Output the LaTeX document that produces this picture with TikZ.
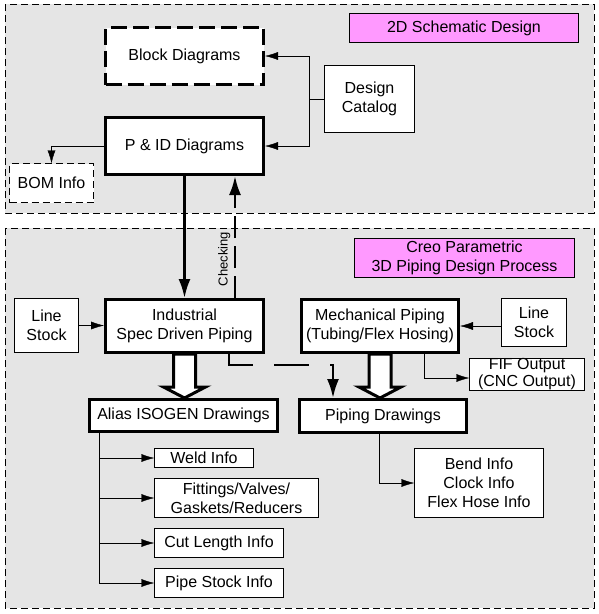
\documentclass[tikz,border=0pt]{standalone}
\usepackage{fontspec}
\setmainfont{Liberation Sans}
\usetikzlibrary{arrows.meta, calc}
\definecolor{panelgray}{RGB}{229,229,229}
\definecolor{titlepink}{RGB}{255,153,255}

\begin{document}
\begin{tikzpicture}[x=1pt, y=-1pt,
        % Define styles for the components
        every node/.style={font=\fontsize{16}{19}\selectfont},
        panel/.style={draw, dash pattern=on 7pt off 4pt, fill=panelgray},
        title/.style={rectangle, draw, fill=titlepink, text centered, align=center, inner sep=0pt},
        block/.style={rectangle, draw, fill=white, line width=3pt, text centered, align=center, inner sep=0pt},
        info/.style={rectangle, draw, fill=white, text centered, align=center, inner sep=0pt},
        arrow/.style={->, >={Latex[length=13pt, width=8pt]}},
        bigarrow/.style={->, line width=2.5pt, >={Latex[length=19pt, width=12pt]}},
        hollow/.style={draw, fill=white, line width=3pt, line join=miter}
    ]
    \useasboundingbox (0,0) rectangle (599,614);

    % Background panels
    \draw[panel] (5,4) rectangle (594,213);
    \draw[panel] (5,228) rectangle (594,608);

    % Define nodes
    \node[title, minimum width=229, minimum height=29] (schemtitle) at (464,28) {2D Schematic Design};
    \node[block, dash pattern=on 16pt off 6pt, minimum width=158, minimum height=57] (blockdiag) at (184.5,56) {Block Diagrams};
    \node[block, minimum width=158, minimum height=57] (pid) at (184.5,146) {P \& ID Diagrams};
    \node[info, minimum width=90, minimum height=67] (catalog) at (369.5,99) {Design\\Catalog};
    \node[info, dash pattern=on 7pt off 4pt, minimum width=84, minimum height=39] (bom) at (51.5,183) {BOM Info};

    \node[title, minimum width=220, minimum height=39] (creotitle) at (464.5,258) {Creo Parametric\\3D Piping Design Process};
    \node[info, minimum width=64, minimum height=54] (stockleft) at (46.5,325.5) {Line\\Stock};
    \node[block, minimum width=158, minimum height=53] (industrial) at (184.5,326) {Industrial\\Spec Driven Piping};
    \node[block, minimum width=157, minimum height=53] (mechanical) at (380,326) {Mechanical Piping\\(Tubing/Flex Hosing)};
    \node[info, minimum width=65, minimum height=48] (stockright) at (534,322.5) {Line\\Stock};
    \node[info, minimum width=115, minimum height=31, font=\fontsize{16}{17}\selectfont] (fif) at (527,374) {FIF Output\\(CNC Output)};
    \node[block, minimum width=188, minimum height=32] (alias) at (183.5,415.5) {Alias ISOGEN Drawings};
    \node[block, minimum width=167, minimum height=33] (pipingdraw) at (383,416) {Piping Drawings};

    \node[info, minimum width=99, minimum height=19] (weld) at (204,458) {Weld Info};
    \node[info, minimum width=164, minimum height=39] (fittings) at (236.5,498) {Fittings/Valves/\\Gaskets/Reducers};
    \node[info, minimum width=129, minimum height=29] (cutlength) at (219,543) {Cut Length Info};
    \node[info, minimum width=129, minimum height=29] (pipestock) at (219,583) {Pipe Stock Info};
    \node[info, minimum width=129, minimum height=69] (bendinfo) at (479,483) {Bend Info\\Clock Info\\Flex Hose Info};

    % Draw arrows
    \draw[arrow] (catalog.west) -- ++(-15,0) |- (blockdiag.east);
    \draw[arrow] (catalog.west) -- ++(-15,0) |- (pid.east);
    \draw[arrow] (pid.west) -| (bom.north);
    \draw[bigarrow] (pid) -- (industrial);
    \draw[bigarrow, dash pattern=on 22pt off 8pt] ([xshift=50.5pt]industrial.north) -- ([xshift=50.5pt]pid.south)
        node[pos=0.32, rotate=90, anchor=south, font=\fontsize{13}{15}\selectfont] {Checking};

    \draw[arrow] (stockleft.east) -- (stockleft.east -| industrial.west);
    \draw[arrow] (stockright.west |- mechanical.east) -- (mechanical.east);
    \draw[arrow] ([xshift=44pt]mechanical.south) |- ([yshift=-4pt]fif.west);
    \draw[bigarrow, dash pattern=on 35pt off 21pt] ([xshift=44.5pt]industrial.south) -- ++(0,11) -| ([xshift=-50pt]pipingdraw.north);

    % Hollow flow arrows
    \draw[hollow] ([xshift=-11pt]industrial.south) |- ++(-10,33) -- (industrial.south |- alias.north)
        -- ++(21,-11) -- ++(-10,0) |- ([xshift=11pt]industrial.south) -- cycle;
    \draw[hollow] ([xshift=-11pt]mechanical.south) |- ++(-10,33) -- (mechanical.south |- pipingdraw.north)
        -- ++(21,-11) -- ++(-10,0) |- ([xshift=11pt]mechanical.south) -- cycle;

    % Drawing outputs
    \draw[arrow] ([xshift=-84.5pt]alias.south) |- (weld.west);
    \draw[arrow] ([xshift=-84.5pt]alias.south) |- (fittings.west);
    \draw[arrow] ([xshift=-84.5pt]alias.south) |- (cutlength.west);
    \draw[arrow] ([xshift=-84.5pt]alias.south) |- (pipestock.west);
    \draw[arrow] ([xshift=-4pt]pipingdraw.south) |- (bendinfo.west);
\end{tikzpicture}
\end{document}
